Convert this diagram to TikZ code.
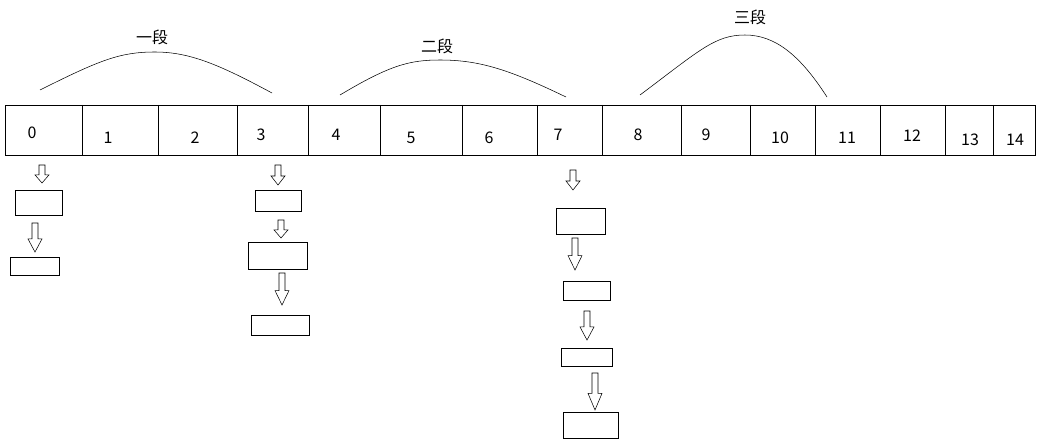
\documentclass[tikz,border=0pt]{standalone}
\usepackage{fontspec}
\setmainfont{Noto Sans CJK SC}
\newcommand\harrow[3]{% x, ytop, ybottom
  \draw[thin] ({#1-3},#2) -- ({#1+3},#2) -- ({#1+3},{#2+0.55*(#3-#2)}) -- ({#1+7},{#2+0.55*(#3-#2)}) -- (#1,#3) -- ({#1-7},{#2+0.55*(#3-#2)}) -- ({#1-3},{#2+0.55*(#3-#2)}) -- cycle;}
\begin{document}
\begin{tikzpicture}[x=0.75pt,y=-0.75pt,
  cell/.style={font=\fontsize{12}{14}\selectfont,inner sep=0pt},
  lab/.style={font=\fontsize{12}{14}\selectfont,inner sep=0pt},
  bx/.style={draw,thin}]
\useasboundingbox[fill=white] (0,0) rectangle (1041,445);
% array
\draw[thin] (5,105) rectangle (1035,155);
\foreach \x in {82,158,237,308,380,462,537,602,681,750,815,880,945,993}
  \draw[thin] (\x,105) -- (\x,155);
\foreach \n/\x/\y in {0/32/133,1/108/138,2/195/138,3/261/135,4/336/135,5/411/138,6/489/138,7/558/135,8/638/135,9/706/135,10/780/138,11/847/138,12/912/136,13/970/140,14/1015/140}
  \node[cell] (c\n) at (\x,\y) {\n};
% arcs
\draw[thin] (40,90) .. controls (100,60) and (120,52) .. (155,52) .. controls (190,52) and (220,65) .. (272,93);
\node[lab] (s1) at (152,37) {一段};
\draw[thin] (340,95) .. controls (390,65) and (410,60) .. (440,60) .. controls (480,60) and (510,70) .. (566,97);
\node[lab] (s2) at (437,46) {二段};
\draw[thin] (640,95) .. controls (700,50) and (715,35) .. (745,35) .. controls (775,35) and (800,55) .. (827,97);
\node[lab] (s3) at (750,17) {三段};
% column 0
\harrow{42}{165}{183}
\draw[bx] (15,190) rectangle (62,215);
\harrow{35}{223}{252}
\draw[bx] (10,257) rectangle (59,275);
% column 3
\harrow{278}{165}{185}
\draw[bx] (255,190) rectangle (301,211);
\harrow{281}{220}{238}
\draw[bx] (248,242) rectangle (307,269);
\harrow{282}{273}{305}
\draw[bx] (251,315) rectangle (309,335);
% column 7
\harrow{573}{170}{190}
\draw[bx] (556,208) rectangle (605,234);
\harrow{575}{238}{270}
\draw[bx] (563,281) rectangle (610,300);
\harrow{587}{311}{340}
\draw[bx] (561,348) rectangle (612,366);
\harrow{595}{373}{410}
\draw[bx] (563,412) rectangle (618,438);
\end{tikzpicture}
\end{document}
